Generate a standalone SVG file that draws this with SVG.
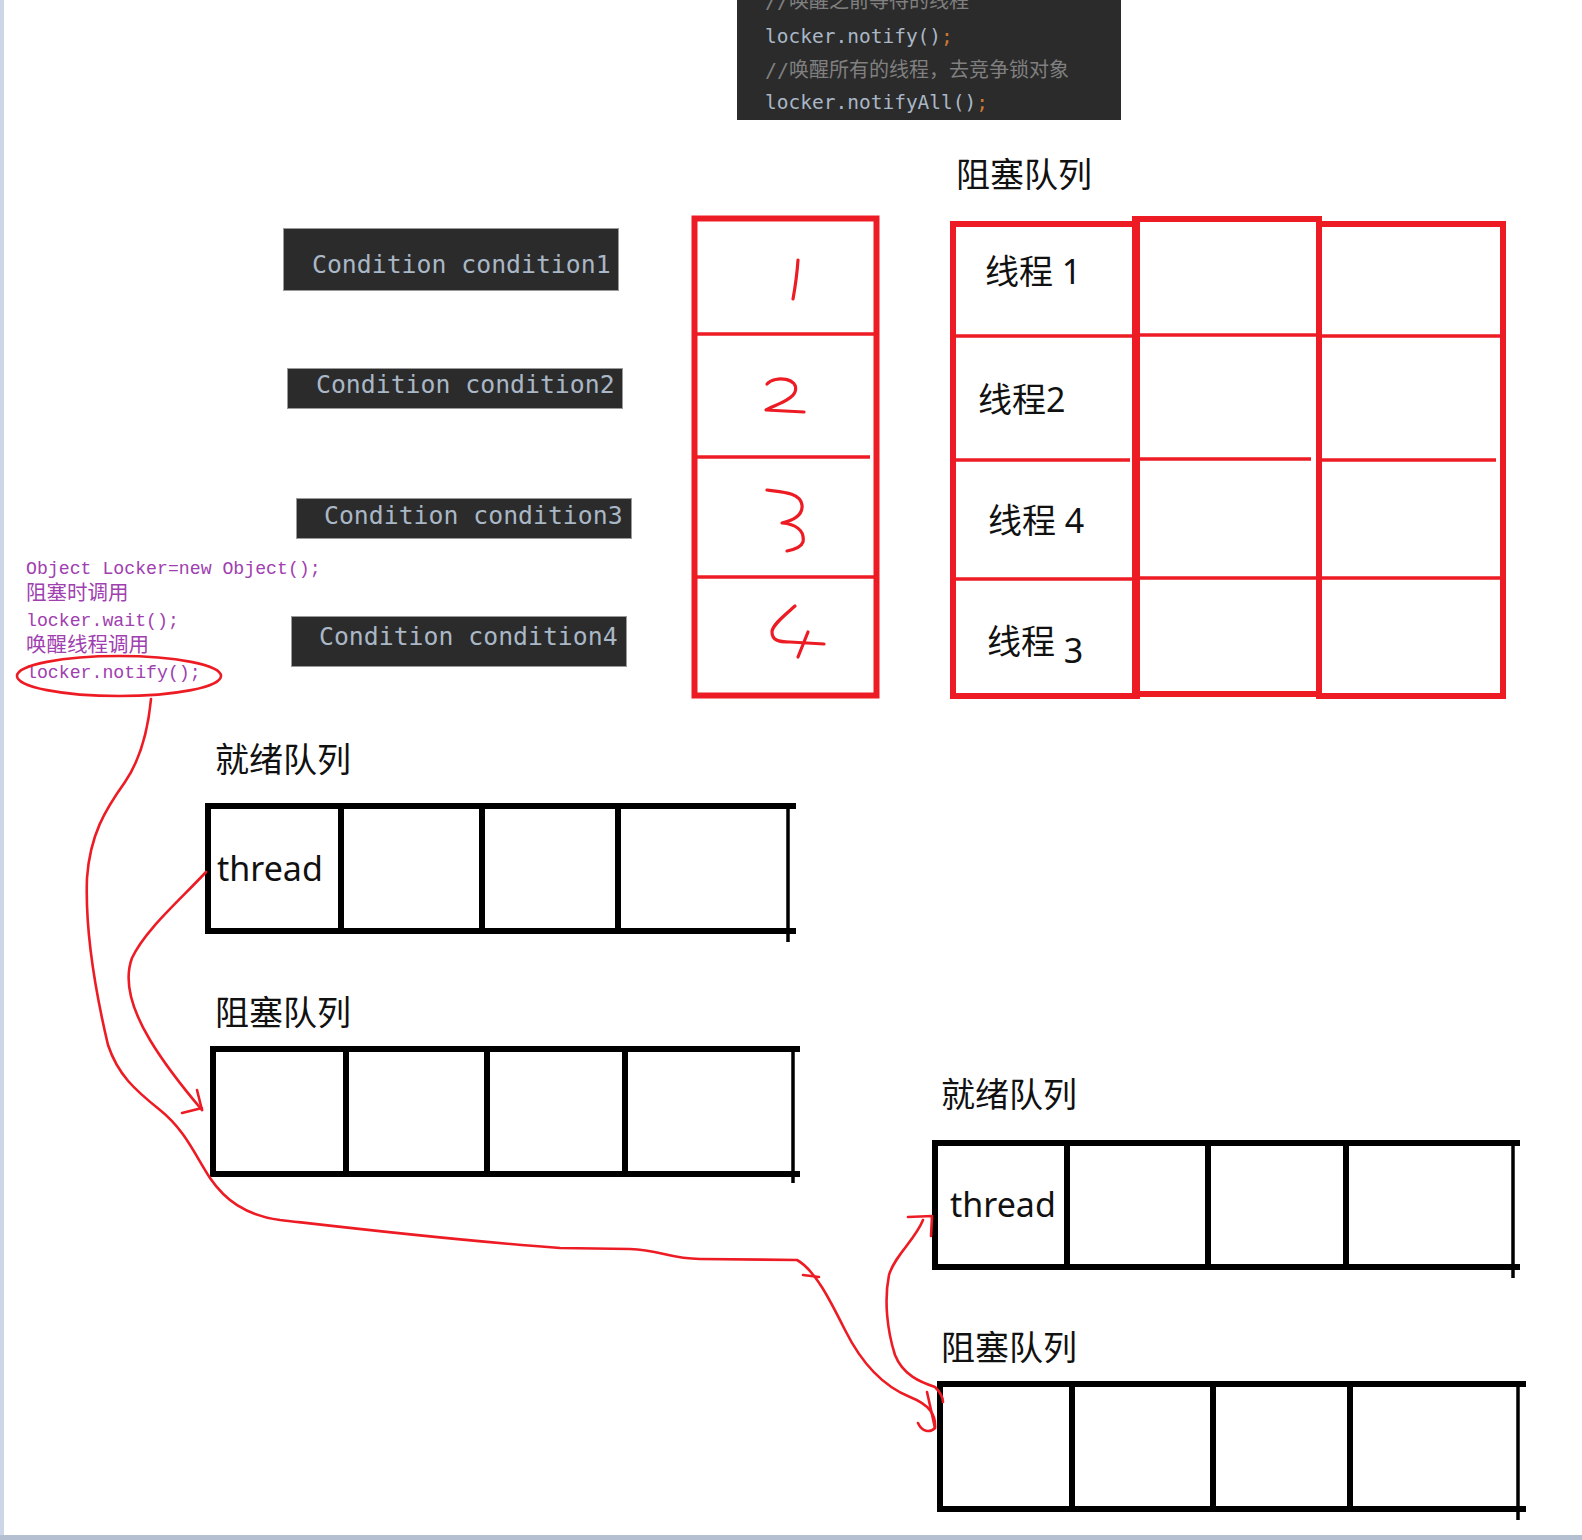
<svg xmlns="http://www.w3.org/2000/svg" width="1582" height="1540" viewBox="0 0 1582 1540">
<style>
.code{font-family:"DejaVu Sans Mono","Noto Sans CJK SC",monospace;font-size:19.5px;fill:#a9b7c6}
.cmt{fill:#808080;font-size:20px}
.semi{fill:#cc7832}
.cond{font-family:"DejaVu Sans Mono",monospace;font-size:24.8px;fill:#a9b7c6}
.cbox{fill:#2b2b2b;stroke:#9a9a9a;stroke-width:1}
.purp{font-family:"Liberation Mono","Noto Sans CJK SC",monospace;font-size:18.2px;fill:#a040b0}
.purpc{font-family:"Noto Sans CJK SC",sans-serif;font-size:20.5px;fill:#a040b0}
.lbl{font-family:"Noto Sans","Noto Sans CJK SC",sans-serif;font-size:34px;fill:#111}
.rthick{fill:none;stroke:#ed1c24;stroke-width:6}
.rthin{fill:none;stroke:#ed1c24;stroke-width:3.5}
.q{fill:none;stroke:#000;stroke-width:6}
.qe{fill:none;stroke:#000;stroke-width:3.5}
.hand{fill:none;stroke:#ed1c24;stroke-width:3.2;stroke-linecap:round;stroke-linejoin:round}
.con{fill:none;stroke:#ed1c24;stroke-width:2.6;stroke-linecap:round;stroke-linejoin:round}
</style>
<rect x="0" y="0" width="1582" height="1540" fill="#ffffff"/>
<rect x="0" y="0" width="4" height="1540" fill="#ccd6e6"/>
<rect x="0" y="1535" width="1582" height="5" fill="#b4bfd1"/>

<g id="code-block">
<rect x="737" y="0" width="384" height="120" fill="#2b2b2b"/>
<text class="code cmt" x="765" y="8">//唤醒之前等待的线程</text>
<text class="code" x="765" y="43">locker.notify()<tspan class="semi">;</tspan></text>
<text class="code cmt" x="765" y="77">//唤醒所有的线程，去竞争锁对象</text>
<text class="code" x="765" y="109">locker.notifyAll()<tspan class="semi">;</tspan></text>
</g>

<g id="condition1"><rect class="cbox" x="283.5" y="228.5" width="335" height="62"/><text class="cond" x="312" y="273">Condition condition1</text></g>
<g id="condition2"><rect class="cbox" x="287.5" y="368.5" width="335" height="40"/><text class="cond" x="316" y="393">Condition condition2</text></g>
<g id="condition3"><rect class="cbox" x="296.5" y="498.5" width="335" height="40"/><text class="cond" x="324" y="524">Condition condition3</text></g>
<g id="condition4"><rect class="cbox" x="291.5" y="616.5" width="335" height="50"/><text class="cond" x="319" y="645">Condition condition4</text></g>

<g id="locker-note">
<text class="purp" x="26" y="574">Object Locker=new Object();</text>
<text class="purpc" x="26" y="600">阻塞时调用</text>
<text class="purp" x="26" y="626">locker.wait();</text>
<text class="purpc" x="26" y="652">唤醒线程调用</text>
<text class="purp" x="26" y="678">locker.notify();</text>
<ellipse class="con" cx="119" cy="676" rx="102" ry="20"/>
</g>

<g id="condition-table">
<rect class="rthick" x="694.5" y="218.5" width="182" height="477" stroke-width="5"/>
<line class="rthin" x1="697" y1="334" x2="876" y2="334"/>
<line class="rthin" x1="697" y1="457" x2="870" y2="457"/>
<line class="rthin" x1="697" y1="577" x2="876" y2="577"/>
<path class="hand" d="M798,260 C797,275 795,288 793,299"/>
<path class="hand" d="M767,384 C775,375 800,378 795,392 C792,400 775,405 766,410 L804,412"/>
<path class="hand" d="M767,490 C780,492 800,492 802,505 C803,515 795,520 782,523 C795,524 805,530 803,542 C801,548 792,550 787,551"/>
<path class="hand" d="M795,606 C785,615 772,625 772,632 C772,640 778,642 790,642 L824,644 M808,632 L798,657"/>
</g>

<g id="blocking-table">
<text class="lbl" x="956" y="187">阻塞队列</text>
<rect class="rthick" x="953" y="224" width="184" height="472"/>
<rect class="rthick" x="1135" y="219" width="184" height="475"/>
<rect class="rthick" x="1319" y="224" width="184" height="472"/>
<line class="rthin" x1="956" y1="336" x2="1134" y2="336"/>
<line class="rthin" x1="956" y1="460" x2="1130" y2="460"/>
<line class="rthin" x1="956" y1="579" x2="1134" y2="579"/>
<line class="rthin" x1="1138" y1="335" x2="1316" y2="335"/>
<line class="rthin" x1="1138" y1="459" x2="1311" y2="459"/>
<line class="rthin" x1="1138" y1="578" x2="1316" y2="578"/>
<line class="rthin" x1="1322" y1="336" x2="1500" y2="336"/>
<line class="rthin" x1="1322" y1="460" x2="1496" y2="460"/>
<line class="rthin" x1="1322" y1="578" x2="1500" y2="578"/>
<text class="lbl" x="985" y="284">线程 1</text>
<text class="lbl" x="978" y="412">线程2</text>
<text class="lbl" x="988" y="533">线程 4</text>
<text class="lbl" x="987" y="654">线程 <tspan dy="9">3</tspan></text>
</g>

<g id="ready-queue-1">
<text class="lbl" x="215" y="772">就绪队列</text>
<path class="q" d="M208,806 H796 M208,931 H796 M208,803 V934 M341,806 V934 M482,806 V931 M618,806 V931"/>
<path class="qe" d="M788,806 V942"/>
<text class="lbl" x="217" y="881">thread</text>
</g>

<g id="block-queue-1">
<text class="lbl" x="215" y="1025">阻塞队列</text>
<path class="q" d="M213,1049 H800 M213,1174 H800 M213,1046 V1177 M346,1049 V1177 M487,1049 V1174 M625,1049 V1174"/>
<path class="qe" d="M793,1049 V1183"/>
</g>

<g id="ready-queue-2">
<text class="lbl" x="941" y="1107">就绪队列</text>
<path class="q" d="M935,1143 H1520 M935,1267 H1520 M935,1140 V1270 M1067,1143 V1270 M1208,1143 V1267 M1346,1143 V1267"/>
<path class="qe" d="M1513,1143 V1278"/>
<text class="lbl" x="950" y="1217">thread</text>
</g>

<g id="block-queue-2">
<text class="lbl" x="941" y="1360">阻塞队列</text>
<path class="q" d="M940,1384 H1526 M940,1509 H1526 M940,1381 V1512 M1072,1384 V1512 M1213,1384 V1509 M1350,1384 V1509"/>
<path class="qe" d="M1518,1384 V1520"/>
</g>

<g id="connectors">
<path class="con" d="M151,699 C148,730 140,760 125,782 C105,810 90,835 87,878 C85,930 95,990 108,1045 C118,1075 135,1090 160,1110 C185,1130 195,1155 210,1178 C225,1200 245,1215 280,1220 C350,1228 450,1240 560,1248 L630,1249 C660,1250 670,1259 700,1259 L797,1260 C815,1270 830,1300 845,1330 C860,1360 880,1385 910,1397 C930,1405 936,1415 935,1428 C930,1433 922,1432 918,1423"/>
<path class="con" d="M803,1275 L819,1277 M927,1392 L935,1428"/>
<path class="con" d="M206,872 C180,900 145,930 132,958 C122,985 135,1015 150,1040 C165,1065 185,1090 202,1110"/>
<path class="con" d="M182,1113 L202,1108 M197,1090 L202,1110"/>
<path class="con" d="M923,1220 C915,1240 895,1255 889,1275 C884,1300 887,1330 895,1355 C903,1375 920,1382 935,1387 C940,1392 943,1398 943,1402"/>
<path class="con" d="M908,1217 L932,1216 L931,1236"/>
</g>
</svg>
